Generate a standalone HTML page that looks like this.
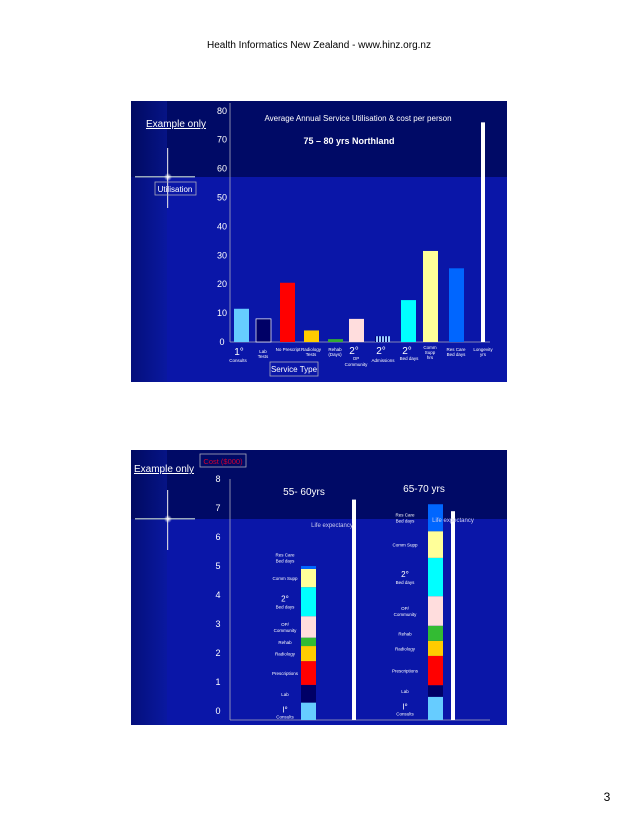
<!DOCTYPE html>
<html><head><meta charset="utf-8"><style>
body{margin:0;background:#fff;width:638px;height:826px;overflow:hidden;font-family:"Liberation Sans",sans-serif}
svg text{font-family:"Liberation Sans",sans-serif}
</style></head><body>
<svg width="638" height="826">
<defs>
<linearGradient id="lg" x1="0" x2="1"><stop offset="0" stop-color="#000a5e"/><stop offset="1" stop-color="#0a1a9a"/></linearGradient>
<radialGradient id="star"><stop offset="0" stop-color="#fff"/><stop offset="1" stop-color="#fff" stop-opacity="0"/></radialGradient>
<pattern id="stripe" width="3" height="4" patternUnits="userSpaceOnUse"><rect width="3" height="4" fill="#99ccff"/><rect width="1" height="4" fill="#000066"/></pattern>
</defs>
<text x="319" y="48" font-size="10" text-anchor="middle">Health Informatics New Zealand - www.hinz.org.nz</text>
<text x="607" y="801" font-size="12" text-anchor="middle">3</text>

<g>
<rect x="131" y="101" width="376" height="281" fill="#000a66"/>
<rect x="131" y="177" width="376" height="205" fill="#0a16a8"/>
<rect x="131" y="101" width="36" height="281" fill="url(#lg)" opacity="0.6"/>
<rect x="135" y="176" width="60" height="1.5" fill="#9ab"/>
<rect x="167" y="148" width="1.2" height="60" fill="#ccd"/>
<circle cx="168" cy="177" r="4" fill="url(#star)"/>
<text x="176" y="127" font-size="10" fill="#fff" text-anchor="middle" text-decoration="underline">Example only</text>
<rect x="155" y="182" width="41" height="13" fill="none" stroke="#aab" stroke-width="0.8"/>
<text x="175" y="192" font-size="8" fill="#fff" text-anchor="middle">Utilisation</text>
<text x="358" y="121" font-size="8" fill="#fff" text-anchor="middle">Average Annual Service Utilisation &amp; cost per person</text>
<text x="349" y="144" font-size="9" font-weight="bold" fill="#fff" text-anchor="middle">75 – 80 yrs Northland</text>
<rect x="270" y="362" width="48" height="14" fill="none" stroke="#aab" stroke-width="0.8"/>
<text x="294" y="372" font-size="8" fill="#fff" text-anchor="middle">Service Type</text>
<g id="c1"></g>
</g>

<g>
<rect x="131" y="450" width="376" height="275" fill="#000a66"/>
<rect x="131" y="519" width="376" height="206" fill="#0a16a8"/>
<rect x="131" y="450" width="36" height="275" fill="url(#lg)" opacity="0.6"/>
<rect x="135" y="518" width="60" height="1.5" fill="#9ab"/>
<rect x="167" y="490" width="1.2" height="60" fill="#ccd"/>
<circle cx="168" cy="519" r="4" fill="url(#star)"/>
<text x="164" y="472" font-size="10" fill="#fff" text-anchor="middle" text-decoration="underline">Example only</text>
<rect x="200" y="454" width="46" height="13" fill="none" stroke="#aab" stroke-width="0.8"/>
<text x="223" y="464" font-size="7.5" fill="#d00030" text-anchor="middle">Cost ($000)</text>
<text x="304" y="495" font-size="10" fill="#fff" text-anchor="middle">55- 60yrs</text>
<text x="424" y="492" font-size="10" fill="#fff" text-anchor="middle">65-70 yrs</text>
<g id="c2"></g>
</g>
</svg>
<script>
const NS='http://www.w3.org/2000/svg';
function mk(p,t,a,txt){const e=document.createElementNS(NS,t);for(const k in a)e.setAttribute(k,a[k]);if(txt!==undefined)e.textContent=txt;p.appendChild(e);return e;}
// Chart 1 data
const c1Categories=['Consults','Lab Tests','No Prescript','Radiology Tests','Rehab (Days)','OP Community','Admissions','Bed days','Comm Supp hrs','Res Care Bed days','Longevity yrs'];
const c1Values=[11.5,8,20.5,4,1,8,2,14.5,31.5,25.5,76];
const c1Ticks=[0,10,20,30,40,50,60,70,80];
const c1Colors=['#66ccff','#000066','#ff0000','#ffcc00','#33aa33','#ffdddd','url(#stripe)','#00ffff','#ffff99','#0066ff','#ffffff'];
// Chart 2 data
const c2Groups=['55-60','65-70'];
const c2Segments=['Consults','Lab','Prescriptions','Radiology','Rehab','OP/|Community','2° Bed days','Comm Supp','Res Care|Bed days'];
const c2Values55=[0.6,0.61,0.82,0.52,0.29,0.74,1.0,0.63,0.1];
const c2Values65=[0.8,0.4,1.01,0.52,0.52,1.02,1.32,0.92,0.93];
const c2LifeExp=[7.6,7.2];
const c2Ticks=[0,1,2,3,4,5,6,7,8];
const c2Colors=['#66ccff','#000066','#ff0000','#ffcc00','#33bb33','#ffdddd','#00ffff','#ffff99','#0066ff'];

// chart 1
(function(){
 const g=document.getElementById('c1');
 const y=v=>342-v*2.89;
 mk(g,'line',{x1:230,y1:103,x2:230,y2:342,stroke:'#aab','stroke-width':0.8});
 mk(g,'line',{x1:230,y1:342,x2:490,y2:342,stroke:'#aab','stroke-width':0.8});
 c1Ticks.forEach(t=>{const e=mk(g,'text',{x:222,y:y(t)+3,'font-size':9,fill:'#fff','text-anchor':'middle'},t);
 
 });
 const xs=[234,256,280,304,328,349,375,401,423,449,481];
 c1Values.forEach((v,i)=>{const w=i==10?4:15;
 const r=mk(g,'rect',{x:xs[i],y:y(v),width:w,height:v*2.89,fill:c1Colors[i],stroke:i==1?'#fff':'none','stroke-width':0.7});
 
 });
 const lab=[['1°',241,355,9,'Consults',362],['',263,353,5,'Lab',353],['',288,351,5,'No Prescript',351],['',311,351,5,'Radiology',351],['',335,351,5,'Rehab',351],['2°',356,354,9,'OP',360],['2°',383,354,9,'Admissions',362],['2°',409,354,9,'Bed days',360],['',430,349,5,'Comm',349],['',456,351,5,'Res Care',351],['',483,351,5,'Longevity',351]];
 const lab2=[null,'Tests',null,'Tests','(Days)','Community',null,null,'Supp',"Bed days",'yrs'];
 lab.forEach((l,i)=>{
  if(l[0]){const e=mk(g,'text',{x:l[1]-2,y:l[2],'font-size':10,fill:'#fff','text-anchor':'middle'},l[0]);}
  const e=mk(g,'text',{x:l[1]+(i==0?-3:0),y:l[5],'font-size':4.5,fill:'#fff','text-anchor':'middle'},l[4]);
  
  
  if(lab2[i]){const f=mk(g,'text',{x:l[1],y:l[5]+(i==5?6:5),'font-size':4.5,fill:'#fff','text-anchor':'middle'},lab2[i]);}
 });
 mk(g,'text',{x:430,y:359,'font-size':4.5,fill:'#fff','text-anchor':'middle'},'hrs');
})();

// chart 2
(function(){
 const g=document.getElementById('c2');
 const y=v=>720-v*29;
 mk(g,'line',{x1:230,y1:479,x2:230,y2:720,stroke:'#aab','stroke-width':0.8});
 mk(g,'line',{x1:230,y1:720,x2:490,y2:720,stroke:'#aab','stroke-width':0.8});
 c2Ticks.forEach(t=>{const e=mk(g,'text',{x:218,y:y(t)-6,'font-size':9,fill:'#fff','text-anchor':'middle'},t);
 
 });
 const barX=[301,428], lineX=[352,451], labOff=[16,23];
 [c2Values55,c2Values65].forEach((vals,gi)=>{
  let acc=0;
  vals.forEach((v,i)=>{
   const r=mk(g,'rect',{x:barX[gi],y:y(acc+v),width:15,height:v*29,fill:c2Colors[i]});
   
   
   let cy=y(acc+v/2);
   if(i===8&&gi===0)cy=y(acc+0.4);
   const lx=barX[gi]-labOff[gi];
   if(c2Segments[i]==='2° Bed days'){
    mk(g,'text',{x:lx,y:cy,'font-size':8,fill:'#fff','text-anchor':'middle'},'2°');
    mk(g,'text',{x:lx,y:cy+7,'font-size':4.5,fill:'#fff','text-anchor':'middle'},'Bed days');
   } else if(i===0){
    mk(g,'text',{x:lx,y:cy+1,'font-size':8,fill:'#fff','text-anchor':'middle'},'I°');
    mk(g,'text',{x:lx,y:cy+7,'font-size':4.5,fill:'#fff','text-anchor':'middle'},'Consults');
   } else {
    const parts=c2Segments[i].split('|');
    parts.forEach((p,k)=>{
     const e=mk(g,'text',{x:lx,y:cy+2+(k-(parts.length-1)/2)*6,'font-size':4.5,fill:'#fff','text-anchor':'middle'},p);
     
     
    });
   }
   acc+=v;
  });
  const l=mk(g,'rect',{x:lineX[gi],y:y(c2LifeExp[gi]),width:4,height:c2LifeExp[gi]*29,fill:'#fff'});
  
  
  const t=mk(g,'text',{x:gi?453:332,y:gi?522:527,'font-size':6,fill:'#cce','text-anchor':'middle'},'Life expectancy');
  
  
 });
})();
</script>
</body></html>
